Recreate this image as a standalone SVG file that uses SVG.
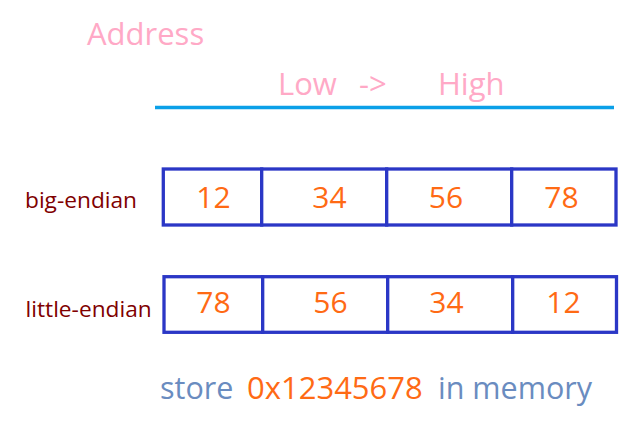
<svg xmlns="http://www.w3.org/2000/svg" width="640" height="427" viewBox="0 0 640 427">
<style>
text{font-family:"Open Sans","Noto Sans","DejaVu Sans",sans-serif}
.pink{fill:#ffa9c6;font-size:31px}
.lbl{fill:#800000;font-size:22.7px}
.num{fill:#ff6a14;font-size:30px;text-anchor:middle}
.cell{fill:#ffffff;stroke:#2b37c6;stroke-width:3.3}
.note{fill:#6a8cc0;font-size:30.5px}
.hex{fill:#ff6a14;font-size:31px}
</style>
<rect width="640" height="427" fill="#ffffff"/>
<g id="header">
<text class="pink" x="87" y="44.5">Address</text>
<text class="pink" x="278" y="94.5">Low</text>
<text class="pink" x="359" y="94.5">-&gt;</text>
<text class="pink" x="438" y="94.5">High</text>
</g>
<g id="connectors">
<line x1="155" y1="107.5" x2="614" y2="107.5" stroke="#0ba0e8" stroke-width="3.6"/>
</g>
<g id="big-endian">
<text class="lbl" x="25" y="207.5">big-endian</text>
<g id="be-12"><rect class="cell" x="163.3" y="169" width="98.4" height="56"/><text class="num" x="213.5" y="207.5">12</text></g>
<g id="be-34"><rect class="cell" x="261.7" y="169" width="125" height="56"/><text class="num" x="329.5" y="207.5">34</text></g>
<g id="be-56"><rect class="cell" x="386.7" y="169" width="125" height="56"/><text class="num" x="446" y="207.5">56</text></g>
<g id="be-78"><rect class="cell" x="511.7" y="169" width="104.3" height="56"/><text class="num" x="561.5" y="207.5">78</text></g>
</g>
<g id="little-endian">
<text class="lbl" x="25.5" y="316.5">little-endian</text>
<g id="le-78"><rect class="cell" x="164" y="276.7" width="98.7" height="55.6"/><text class="num" x="213.5" y="312.5">78</text></g>
<g id="le-56"><rect class="cell" x="262.7" y="276.7" width="125" height="55.6"/><text class="num" x="330.5" y="312.5">56</text></g>
<g id="le-34"><rect class="cell" x="387.7" y="276.7" width="125" height="55.6"/><text class="num" x="446.5" y="312.5">34</text></g>
<g id="le-12"><rect class="cell" x="512.7" y="276.7" width="103.8" height="55.6"/><text class="num" x="563.5" y="312.5">12</text></g>
</g>
<g id="caption">
<text class="note" x="160" y="398.5">store</text>
<text class="hex" x="247" y="398.5">0x12345678</text>
<text class="note" x="438" y="398.5">in memory</text>
</g>
</svg>
